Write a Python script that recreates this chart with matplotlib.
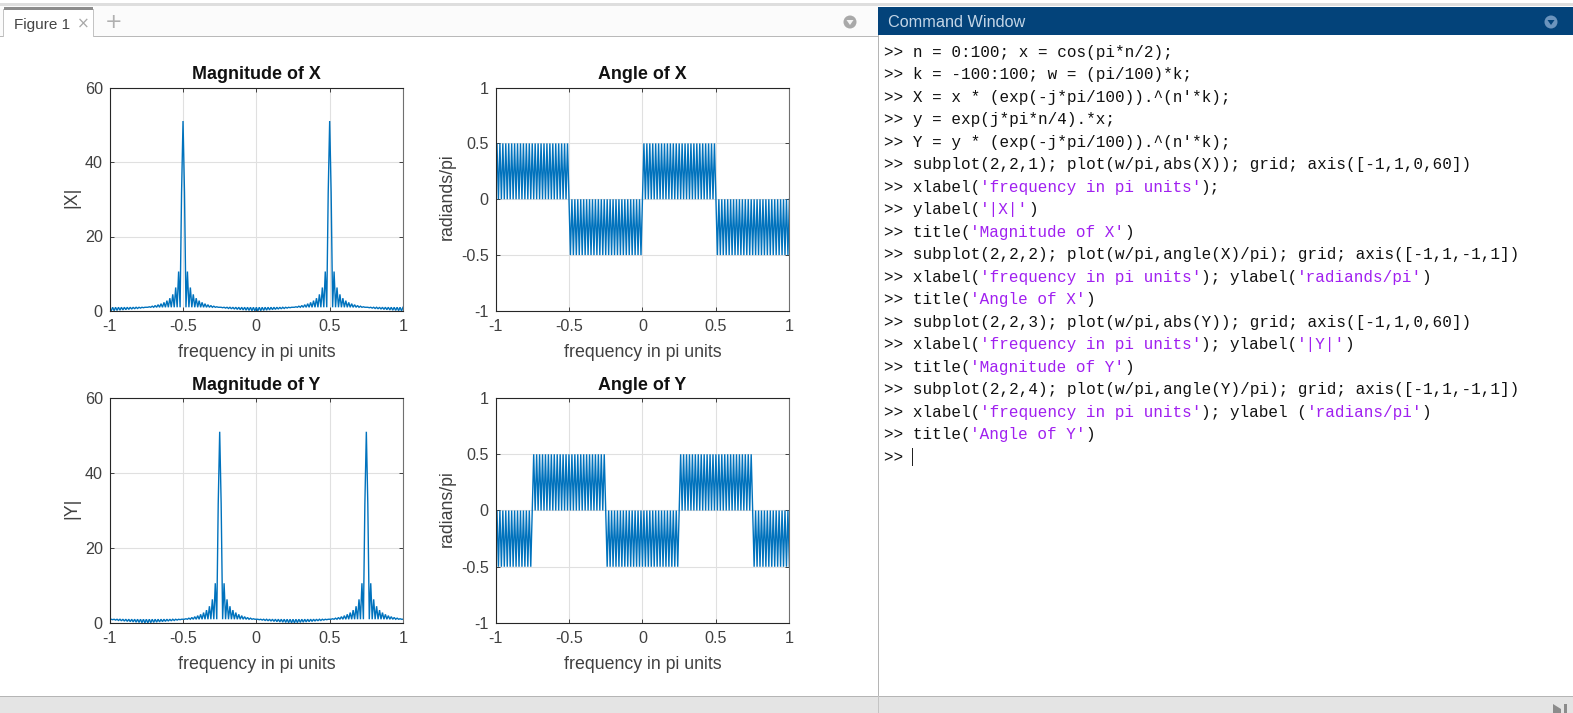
import re
import numpy as np
import matplotlib
matplotlib.use("Agg")
import matplotlib.pyplot as plt
from matplotlib.patches import Rectangle, Circle, Polygon

# ---------- data ----------
frequency = np.arange(-100, 101) / 100

magnitude_x = [
    1, .03, 1, .09, 1, .16, 1, .22, 1, .29, 1, .36, 1, .43, 1, .51, 1, .59, 1, .68,
    1, .78, 1, .88, 1, 1, 1, 1.13, 1, 1.29, 1, 1.47, 1, 1.69, 1, 1.96, 1, 2.31, 1, 2.78,
    1, 3.44, 1, 4.47, 1, 6.31, 1, 10.6, 1, 31.8, 51,
    31.8, 1, 10.6, 1, 6.31, 1, 4.47, 1, 3.44, 1, 2.78, 1, 2.31, 1, 1.96, 1, 1.69, 1, 1.47, 1,
    1.29, 1, 1.13, 1, 1, 1, .88, 1, .78, 1, .68, 1, .59, 1, .51, 1, .43, 1, .36, 1,
    .29, 1, .22, 1, .16, 1, .09, 1, .03, 1,
    .03, 1, .09, 1, .16, 1, .22, 1, .29, 1, .36, 1, .43, 1, .51, 1, .59, 1, .68,
    1, .78, 1, .88, 1, 1, 1, 1.13, 1, 1.29, 1, 1.47, 1, 1.69, 1, 1.96, 1, 2.31, 1, 2.78,
    1, 3.44, 1, 4.47, 1, 6.31, 1, 10.6, 1, 31.8, 51,
    31.8, 1, 10.6, 1, 6.31, 1, 4.47, 1, 3.44, 1, 2.78, 1, 2.31, 1, 1.96, 1, 1.69, 1, 1.47, 1,
    1.29, 1, 1.13, 1, 1, 1, .88, 1, .78, 1, .68, 1, .59, 1, .51, 1, .43, 1, .36, 1,
    .29, 1, .22, 1, .16, 1, .09, 1, .03, 1,
]

magnitude_y = [
    1, 1, .88, 1, .78, 1, .68, 1, .59, 1, .51, 1, .43, 1, .36, 1, .29, 1, .22, 1,
    .16, 1, .09, 1, .03, 1,
    .03, 1, .09, 1, .16, 1, .22, 1, .29, 1, .36, 1, .43, 1, .51, 1, .59, 1, .68,
    1, .78, 1, .88, 1, 1, 1, 1.13, 1, 1.29, 1, 1.47, 1, 1.69, 1, 1.96, 1, 2.31, 1, 2.78,
    1, 3.44, 1, 4.47, 1, 6.31, 1, 10.6, 1, 31.8, 51,
    31.8, 1, 10.6, 1, 6.31, 1, 4.47, 1, 3.44, 1, 2.78, 1, 2.31, 1, 1.96, 1, 1.69, 1, 1.47, 1,
    1.29, 1, 1.13, 1, 1, 1, .88, 1, .78, 1, .68, 1, .59, 1, .51, 1, .43, 1, .36, 1,
    .29, 1, .22, 1, .16, 1, .09, 1, .03, 1,
    .03, 1, .09, 1, .16, 1, .22, 1, .29, 1, .36, 1, .43, 1, .51, 1, .59, 1, .68,
    1, .78, 1, .88, 1, 1, 1, 1.13, 1, 1.29, 1, 1.47, 1, 1.69, 1, 1.96, 1, 2.31, 1, 2.78,
    1, 3.44, 1, 4.47, 1, 6.31, 1, 10.6, 1, 31.8, 51,
    31.8, 1, 10.6, 1, 6.31, 1, 4.47, 1, 3.44, 1, 2.78, 1, 2.31, 1, 1.96, 1, 1.69, 1, 1.47, 1,
    1.29, 1, 1.13, 1, 1,
]

angle_x = [
    0,
    .5, 0, .5, 0, .5, 0, .5, 0, .5, 0,
    .5, 0, .5, 0, .5, 0, .5, 0, .5, 0,
    .5, 0, .5, 0, .5, 0, .5, 0, .5, 0,
    .5, 0, .5, 0, .5, 0, .5, 0, .5, 0,
    .5, 0, .5, 0, .5, 0, .5, 0, .5, 0,
    -.5, 0, -.5, 0, -.5, 0, -.5, 0, -.5, 0,
    -.5, 0, -.5, 0, -.5, 0, -.5, 0, -.5, 0,
    -.5, 0, -.5, 0, -.5, 0, -.5, 0, -.5, 0,
    -.5, 0, -.5, 0, -.5, 0, -.5, 0, -.5, 0,
    -.5, 0, -.5, 0, -.5, 0, -.5, 0, -.5, 0,
    .5, 0, .5, 0, .5, 0, .5, 0, .5, 0,
    .5, 0, .5, 0, .5, 0, .5, 0, .5, 0,
    .5, 0, .5, 0, .5, 0, .5, 0, .5, 0,
    .5, 0, .5, 0, .5, 0, .5, 0, .5, 0,
    .5, 0, .5, 0, .5, 0, .5, 0, .5, 0,
    -.5, 0, -.5, 0, -.5, 0, -.5, 0, -.5, 0,
    -.5, 0, -.5, 0, -.5, 0, -.5, 0, -.5, 0,
    -.5, 0, -.5, 0, -.5, 0, -.5, 0, -.5, 0,
    -.5, 0, -.5, 0, -.5, 0, -.5, 0, -.5, 0,
    -.5, 0, -.5, 0, -.5, 0, -.5, 0, -.5, 0,
]

angle_y = [
    -.5, 0, -.5, 0, -.5, 0, -.5, 0, -.5, 0,
    -.5, 0, -.5, 0, -.5, 0, -.5, 0, -.5, 0,
    -.5, 0, -.5, 0, -.5, 0,
    .5, 0, .5, 0, .5, 0, .5, 0, .5, 0,
    .5, 0, .5, 0, .5, 0, .5, 0, .5, 0,
    .5, 0, .5, 0, .5, 0, .5, 0, .5, 0,
    .5, 0, .5, 0, .5, 0, .5, 0, .5, 0,
    .5, 0, .5, 0, .5, 0, .5, 0, .5, 0,
    -.5, 0, -.5, 0, -.5, 0, -.5, 0, -.5, 0,
    -.5, 0, -.5, 0, -.5, 0, -.5, 0, -.5, 0,
    -.5, 0, -.5, 0, -.5, 0, -.5, 0, -.5, 0,
    -.5, 0, -.5, 0, -.5, 0, -.5, 0, -.5, 0,
    -.5, 0, -.5, 0, -.5, 0, -.5, 0, -.5, 0,
    .5, 0, .5, 0, .5, 0, .5, 0, .5, 0,
    .5, 0, .5, 0, .5, 0, .5, 0, .5, 0,
    .5, 0, .5, 0, .5, 0, .5, 0, .5, 0,
    .5, 0, .5, 0, .5, 0, .5, 0, .5, 0,
    .5, 0, .5, 0, .5, 0, .5, 0, .5, 0,
    -.5, 0, -.5, 0, -.5, 0, -.5, 0, -.5, 0,
    -.5, 0, -.5, 0, -.5, 0, -.5, 0, -.5, 0,
    -.5, 0, -.5, 0, -.5,
]

x_ticks = [-1, -0.5, 0, 0.5, 1]
x_tick_labels = ["-1", "-0.5", "0", "0.5", "1"]
mag_ticks = [0, 20, 40, 60]
mag_tick_labels = ["0", "20", "40", "60"]
ang_ticks = [-1, -0.5, 0, 0.5, 1]
ang_tick_labels = ["-1", "-0.5", "0", "0.5", "1"]

console_lines = [
    ">> n = 0:100; x = cos(pi*n/2);",
    ">> k = -100:100; w = (pi/100)*k;",
    ">> X = x * (exp(-j*pi/100)).^(n'*k);",
    ">> y = exp(j*pi*n/4).*x;",
    ">> Y = y * (exp(-j*pi/100)).^(n'*k);",
    ">> subplot(2,2,1); plot(w/pi,abs(X)); grid; axis([-1,1,0,60])",
    ">> xlabel('frequency in pi units');",
    ">> ylabel('|X|')",
    ">> title('Magnitude of X')",
    ">> subplot(2,2,2); plot(w/pi,angle(X)/pi); grid; axis([-1,1,-1,1])",
    ">> xlabel('frequency in pi units'); ylabel('radiands/pi')",
    ">> title('Angle of X')",
    ">> subplot(2,2,3); plot(w/pi,abs(Y)); grid; axis([-1,1,0,60])",
    ">> xlabel('frequency in pi units'); ylabel('|Y|')",
    ">> title('Magnitude of Y')",
    ">> subplot(2,2,4); plot(w/pi,angle(Y)/pi); grid; axis([-1,1,-1,1])",
    ">> xlabel('frequency in pi units'); ylabel ('radians/pi')",
    ">> title('Angle of Y')",
    ">> ",
]

# ---------- figure ----------
W, H = 1573, 713
plt.rcParams["font.family"] = ["Liberation Sans", "DejaVu Sans"]
plt.rcParams["axes.unicode_minus"] = False
fig = plt.figure(figsize=(W / 100, H / 100), dpi=100, facecolor="white")

ui = fig.add_axes([0, 0, 1, 1], zorder=-1)
ui.set_xlim(0, W)
ui.set_ylim(H, 0)
ui.axis("off")


def box(x0, y0, x1, y1, color):
    ui.add_patch(Rectangle((x0, y0), x1 - x0, y1 - y0, facecolor=color, edgecolor="none"))


# window chrome
box(0, 3, W, 6, "#dedede")
box(0, 6, 878, 36, "#fbfbfb")
box(0, 36, 878, 37, "#b9b9b9")
box(3, 7, 94, 37, "white")
box(4, 6.5, 93, 9.5, "#8c8c8c")
box(93, 9, 94, 37, "#c4c4c4")
box(3, 9, 4, 37, "#c4c4c4")
box(877.5, 7, 878.5, H, "#b5b5b5")
box(878, 7, W, 35, "#03437a")
box(0, 696, W, H, "#e4e4e4")
box(0, 695.5, W, 696.8, "#b5b5b5")
box(877.5, 696, 878.5, H, "#c4c4c4")
ui.text(14, 24.5, "Figure 1", fontsize=11, color="#444444", va="center", ha="left")
ui.text(83.5, 24, "\u00d7", fontsize=11, color="#a8a8a8", va="center", ha="center", family="DejaVu Sans")
ui.text(113.5, 22.5, "+", fontsize=15, color="#b0b0b0", va="center", ha="center", family="DejaVu Sans")
ui.text(888, 22.5, "Command Window", fontsize=11.7, color="#c3d5e6", va="center", ha="left")

for cx, cy, ring, tri in [(850, 22, "#a9a9a9", "#f4f4f4"), (1551, 22, "#6b94bd", "#03437a")]:
    ui.add_patch(Circle((cx, cy), 6.5, facecolor=ring, edgecolor="none"))
    ui.add_patch(Polygon([(cx - 3.5, cy - 2), (cx + 3.5, cy - 2), (cx, cy + 3)], facecolor=tri, edgecolor="none"))
ui.add_patch(Polygon([(1553, 704), (1561, 709), (1561, 713), (1553, 713)], facecolor="#8c8c8c", edgecolor="none"))
box(1564, 704, 1567, 713, "#8c8c8c")

# command window text
mono = "Liberation Mono"
char_w = 9.6
for i, line in enumerate(console_lines):
    y = 52.3 + 22.5 * i
    pos = 0
    for m in list(re.finditer(r"'[^']*'", line)) + [None]:
        end = m.start() if m else len(line)
        if line[pos:end].strip():
            ui.text(884 + pos * char_w, y, line[pos:end], family=mono, fontsize=11.52,
                    color="#111111", va="center", ha="left")
        if m:
            ui.text(884 + m.start() * char_w, y, m.group(), family=mono, fontsize=11.52,
                    color="#A020F0", va="center", ha="left")
            pos = m.end()
box(911.5, 448, 912.5, 466, "#222222")


def panel(l, r, t, b, y, ylim, yt, ytl, title, ylabel, ylab_dx):
    ax = fig.add_axes([l / W, 1 - b / H, (r - l) / W, (b - t) / H])
    ax.plot(frequency, y, color="#0072BD", lw=1.0, solid_joinstyle="miter")
    ax.set_xlim(-1, 1)
    ax.set_ylim(*ylim)
    ax.set_xticks(x_ticks, x_tick_labels)
    ax.set_yticks(yt, ytl)
    ax.grid(True, color="#e0e0e0", lw=0.8)
    ax.set_axisbelow(True)
    ax.tick_params(direction="in", length=3, width=0.6, color="#262626", labelcolor="#404040",
                   labelsize=11.65, top=True, right=True, pad=5)
    ax.tick_params(axis="x", pad=6)
    for side, s in ax.spines.items():
        s.set_linewidth(0.8)
        s.set_color("#262626" if side in ("left", "bottom", "top") else "#707070")
    ax.set_title(title, fontsize=12.9, fontweight="bold", color="#111111", pad=6)
    ax.set_xlabel("frequency in pi units", fontsize=12.8, color="#404040", va="center")
    ax.xaxis.set_label_coords(0.5, -41.5 / (b - t))
    ax.set_ylabel(ylabel, fontsize=12.8, color="#404040", va="center")
    ax.yaxis.set_label_coords(ylab_dx / (r - l), 0.51)
    return ax


L1, R1, L2, R2 = 109.7, 403, 495.5, 789.4
T1, B1, T2, B2 = 87.5, 311, 398, 623
panel(L1, R1, T1, B1, magnitude_x, (0, 60), mag_ticks, mag_tick_labels, "Magnitude of X", "|X|", -38)
panel(L2, R2, T1, B1, angle_x, (-1, 1), ang_ticks, ang_tick_labels, "Angle of X", "radiands/pi", -48)
panel(L1, R1, T2, B2, magnitude_y, (0, 60), mag_ticks, mag_tick_labels, "Magnitude of Y", "|Y|", -38)
panel(L2, R2, T2, B2, angle_y, (-1, 1), ang_ticks, ang_tick_labels, "Angle of Y", "radians/pi", -48)

fig.savefig("out.png", dpi=100)
